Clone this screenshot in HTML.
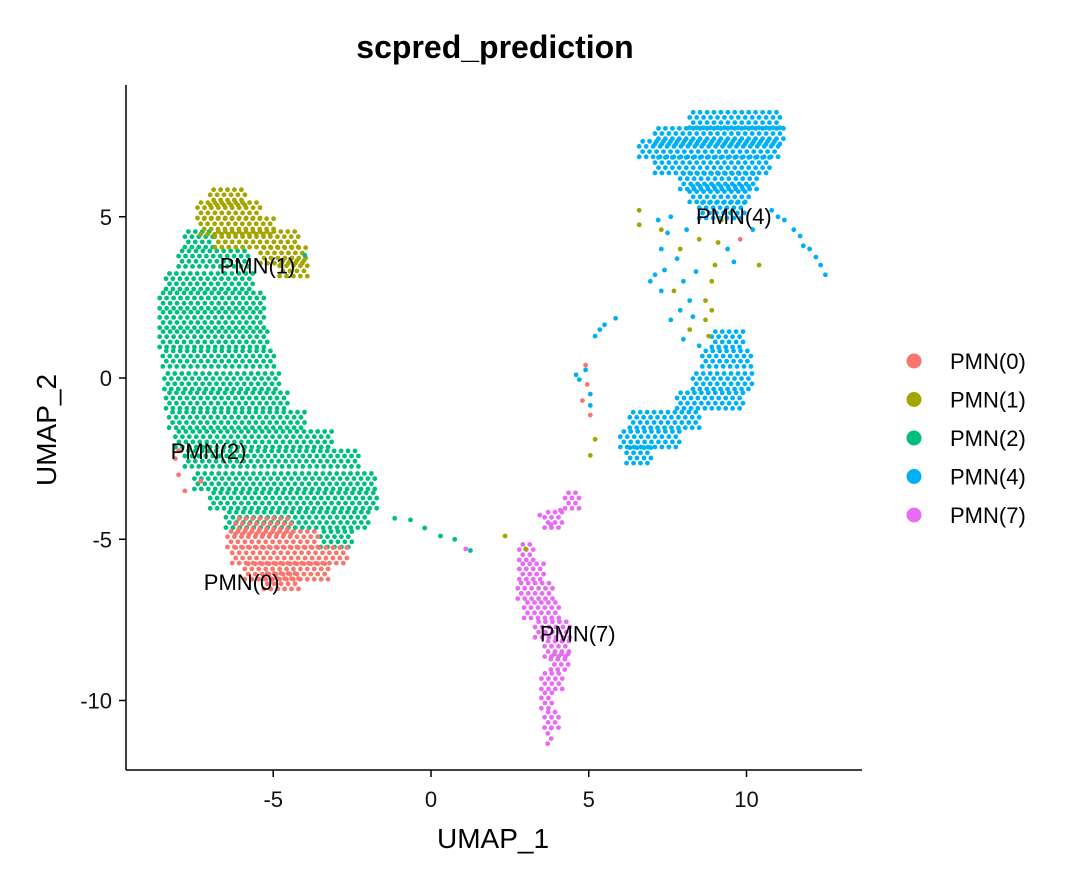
<!DOCTYPE html>
<html><head><meta charset="utf-8"><style>
body{margin:0;background:#fff;}
svg{display:block;font-family:"Liberation Sans",Arial,sans-serif;}
</style></head><body>
<svg id="chart" width="1080" height="883" viewBox="0 0 1080 883">
<rect width="1080" height="883" fill="#fff"/>
<text x="495" y="58" text-anchor="middle" font-size="32" font-weight="bold" fill="#000">scpred_prediction</text>
<g id="points"></g>
<g id="labels"></g>
<line x1="126" y1="85" x2="126" y2="770" stroke="#000" stroke-width="1.5"/>
<line x1="126" y1="770" x2="862" y2="770" stroke="#000" stroke-width="1.5"/>
<g id="xticks"></g>
<g id="yticks"></g>
<text x="493" y="848" text-anchor="middle" font-size="28" fill="#000">UMAP_1</text>
<text transform="translate(56,430) rotate(-90)" text-anchor="middle" font-size="28" fill="#000">UMAP_2</text>
<g id="legend"></g>
</svg>
<script>
const xTicks=[-5,0,5,10];
const yTicks=[5,0,-5,-10];
const clusterNames=["PMN(0)","PMN(1)","PMN(2)","PMN(4)","PMN(7)"];
const clusterColors=["#F8766D","#A3A500","#00BF7D","#00B0F6","#E76BF3"];
// dense regions: [y, xmin, xmax] in UMAP units
const rows0=[[-4.6,-6.2,-4.4],[-5.0,-6.45,-3.5],[-5.5,-6.3,-2.6],[-6.0,-5.9,-3.2],[-6.3,-5.3,-4.2]];
const rows1=[[5.6,-7.0,-5.9],[5.2,-7.4,-5.4],[4.7,-7.3,-4.95],[4.3,-6.85,-4.15],[3.8,-5.4,-3.9],[3.4,-4.8,-3.9]];
const rows2=[[4.3,-7.8,-6.9],[3.7,-8.0,-5.8],[3.0,-8.4,-5.6],[2.4,-8.6,-5.3],[1.8,-8.6,-5.2],[1.2,-8.6,-5.1],[0.6,-8.5,-4.95],[-0.1,-8.45,-4.8],[-0.7,-8.4,-4.47],[-1.3,-8.3,-4.0],[-1.9,-8.1,-3.05],[-2.5,-7.8,-2.25],[-3.2,-7.5,-1.78],[-3.8,-7.0,-1.62],[-4.4,-6.5,-1.9],[-5.0,-3.5,-2.4]];
const rows4=[[8.0,8.2,11.1],[7.5,7.1,11.2],[7.1,6.6,11.1],[6.6,7.1,10.75],[6.1,7.9,10.4],[5.7,8.2,10.1],[5.2,8.5,9.95],[1.2,8.9,10.0],[0.6,8.6,10.2],[-0.1,8.3,10.2],[-0.7,7.8,10.0],[-1.3,6.3,8.5],[-1.9,6.0,7.9],[-2.4,6.2,7.0]];
const rows7=[[-3.8,4.25,4.7],[-4.4,3.6,4.25],[-5.4,2.8,3.3],[-6.0,2.8,3.6],[-6.6,2.75,3.9],[-7.2,2.95,4.1],[-7.8,3.3,4.4],[-8.4,3.6,4.4],[-8.8,3.8,4.4],[-9.4,3.5,4.25],[-10.0,3.5,3.9],[-10.6,3.6,4.1],[-11.1,3.7,3.9]];
// sparse individual cells: [x, y]
const extra0=[[4.9,0.4],[4.95,-0.2],[4.8,-0.7],[5.05,-1.15],[-8.1,-2.5],[-8.0,-3.0],[-7.8,-3.5],[-8.0,-2.25],[9.8,4.3],[-7.3,-3.2]];
const extra1=[[6.6,5.2],[7.3,4.6],[7.9,4.0],[8.5,4.3],[9.0,3.5],[8.9,2.1],[8.7,1.8],[8.2,1.5],[7.7,2.7],[10.4,3.5],[9.2,4.9],[2.35,-4.9],[3.0,-5.3],[5.2,-1.9],[5.05,-2.4],[6.6,4.75],[8.7,2.4],[8.9,3.0],[9.1,4.2],[8.8,1.3]];
const extra2=[[-0.65,-4.4],[-0.2,-4.65],[0.3,-4.9],[0.75,-5.0],[1.25,-5.35],[-1.15,-4.35],[-4.0,3.8]];
const extra4=[[10.8,5.2],[11.2,4.9],[11.7,4.4],[12.0,4.0],[12.35,3.5],[12.5,3.2],[11.8,4.1],[12.2,3.75],[11.0,5.0],[11.5,4.6],[7.3,4.0],[7.4,3.35],[7.3,2.7],[7.9,2.1],[7.6,1.8],[7.1,3.2],[8.2,2.4],[5.2,1.3],[5.5,1.65],[5.85,1.85],[5.35,1.5],[4.6,0.1],[4.7,-0.05],[5.05,-0.5],[5.05,-0.85],[4.9,0.25],[6.95,3.0],[7.5,4.5],[7.8,3.7],[8.0,3.0],[8.3,1.9],[8.0,1.2],[8.5,1.0],[7.2,4.9],[7.6,5.0],[8.1,4.6],[9.4,4.0],[9.6,3.6],[10.2,4.6],[8.4,3.3]];
const extra7=[[4.1,-4.1],[3.8,-4.55],[1.1,-5.3],[3.45,-4.25]];
const labelNames=["PMN(1)","PMN(2)","PMN(0)","PMN(7)","PMN(4)"];
const labelX=[-5.5,-7.05,-6.0,4.65,9.6];
const labelY=[3.45,-2.3,-6.35,-7.95,5.0];

const NS="http://www.w3.org/2000/svg";
const sx=v=>431+v*31.55;
const sy=v=>378-v*32.25;
const pts=document.getElementById('points');
function dot(x,y,c){
  const e=document.createElementNS(NS,'circle');
  e.setAttribute('cx',sx(x).toFixed(1));e.setAttribute('cy',sy(y).toFixed(1));
  e.setAttribute('r','2.4');e.setAttribute('fill',c);
  
  
  pts.appendChild(e);
}
function band(rows,c){
  rows.forEach(r=>{
    [-0.24,-0.08,0.08,0.24].forEach((dy,k)=>{
      const off=k%2?0.11:0;
      for(let x=r[1]+off;x<=r[2];x+=0.22)dot(x,r[0]+dy,c);
    });
  });
}
band(rows2,clusterColors[2]);band(rows0,clusterColors[0]);band(rows1,clusterColors[1]);
band(rows4,clusterColors[3]);band(rows7,clusterColors[4]);
[[extra2,2],[extra4,3],[extra1,1],[extra0,0],[extra7,4]].forEach(([a,i])=>a.forEach(p=>dot(p[0],p[1],clusterColors[i])));

const lg=document.getElementById('labels');
labelNames.forEach((n,i)=>{
  const t=document.createElementNS(NS,'text');
  t.setAttribute('x',sx(labelX[i]));t.setAttribute('y',sy(labelY[i])+7);
  t.setAttribute('text-anchor','middle');t.setAttribute('font-size','22');
  t.textContent=n;
  
  
  lg.appendChild(t);
});
const xt=document.getElementById('xticks');
xTicks.forEach(v=>{
  const l=document.createElementNS(NS,'line');
  l.setAttribute('x1',sx(v));l.setAttribute('x2',sx(v));l.setAttribute('y1',770);l.setAttribute('y2',777);l.setAttribute('stroke','#000');l.setAttribute('stroke-width','1.5');
  
  
  xt.appendChild(l);
  const t=document.createElementNS(NS,'text');
  t.setAttribute('x',sx(v));t.setAttribute('y',807);t.setAttribute('text-anchor','middle');t.setAttribute('font-size','22');t.setAttribute('fill','#111');
  t.textContent=v;
  
  
  xt.appendChild(t);
});
const yt=document.getElementById('yticks');
yTicks.forEach(v=>{
  const l=document.createElementNS(NS,'line');
  l.setAttribute('x1',119);l.setAttribute('x2',126);l.setAttribute('y1',sy(v));l.setAttribute('y2',sy(v));l.setAttribute('stroke','#000');l.setAttribute('stroke-width','1.5');
  
  
  yt.appendChild(l);
  const t=document.createElementNS(NS,'text');
  t.setAttribute('x',112);t.setAttribute('y',sy(v)+8);t.setAttribute('text-anchor','end');t.setAttribute('font-size','22');t.setAttribute('fill','#111');
  t.textContent=v;
  
  
  yt.appendChild(t);
});
const lgd=document.getElementById('legend');
clusterNames.forEach((n,i)=>{
  const y=361+i*38.5;
  const c=document.createElementNS(NS,'circle');
  c.setAttribute('cx',914);c.setAttribute('cy',y);c.setAttribute('r',7.5);c.setAttribute('fill',clusterColors[i]);
  
  
  lgd.appendChild(c);
  const t=document.createElementNS(NS,'text');
  t.setAttribute('x',950);t.setAttribute('y',y+8);t.setAttribute('font-size','22');
  t.textContent=n;
  
  
  lgd.appendChild(t);
});
</script>
</body></html>
